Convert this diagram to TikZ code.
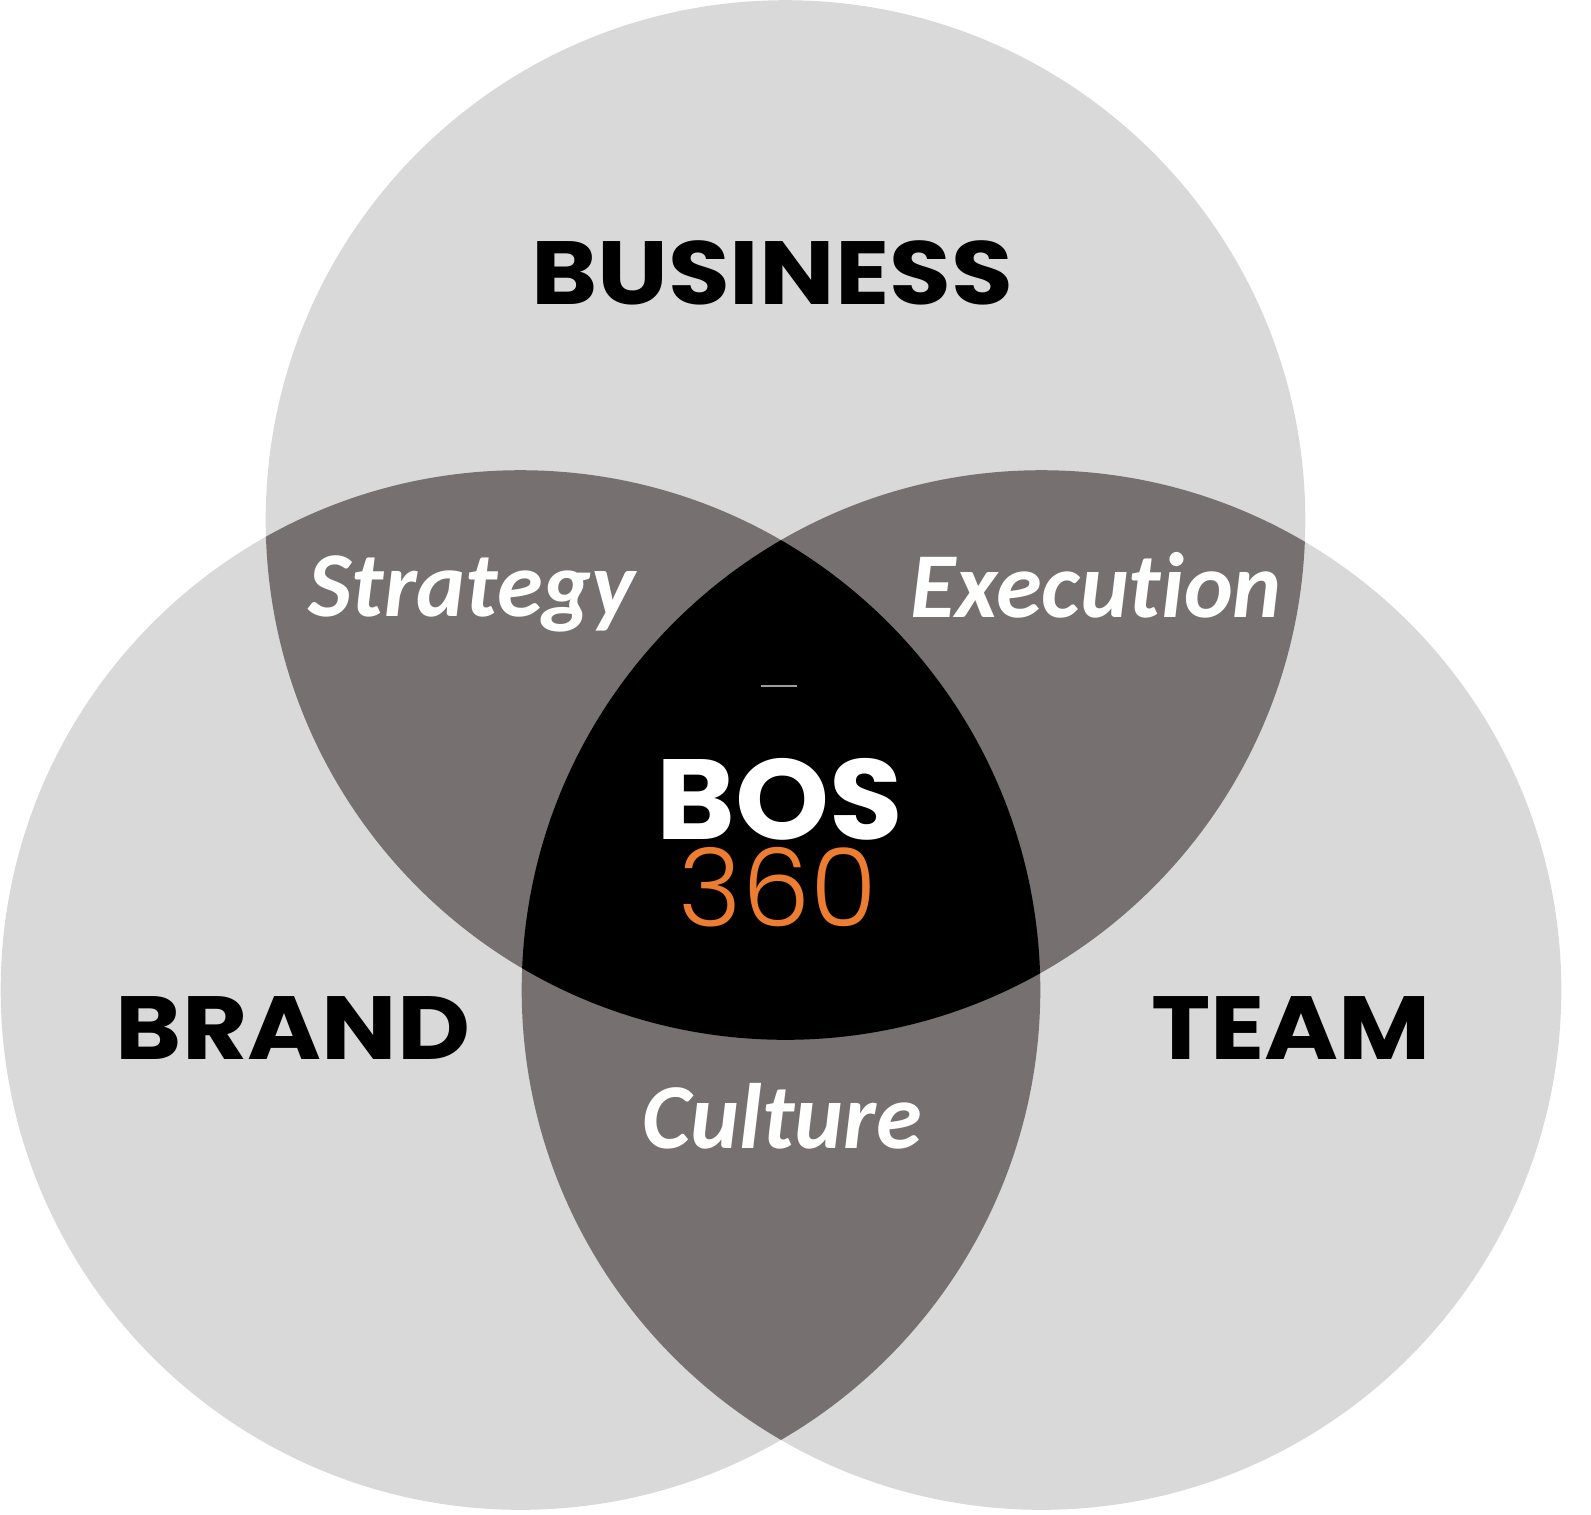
\documentclass[tikz,border=0pt]{standalone}
\usepackage{fontspec}
\setmainfont{Poppins}
\newfontfamily\itfont{Carlito}[Ligatures=NoCommon]
\newfontfamily\thinfont{Poppins}[UprightFont=* Light]
\definecolor{ring}{HTML}{D9D9D9}
\definecolor{lens}{HTML}{767170}
\definecolor{accent}{HTML}{ED7D31}
\begin{document}
\begin{tikzpicture}[x=0.01cm,y=-0.01cm,
  big/.style={font=\bfseries\fontsize{25.5}{30}\selectfont,anchor=base,xscale=1.12},
  word/.style={font=\itfont\bfseries\itshape\fontsize{26.4}{30}\selectfont,text=white,anchor=base}]
\pgfmathsetmacro{\r}{5.195}
\useasboundingbox (0,0) rectangle (1591,1514);
\coordinate (top) at (785.5,520);
\coordinate (left) at (520.5,990);
\coordinate (right) at (1041.5,990);
\foreach \c in {top,left,right}{\fill[ring](\c) circle[radius=\r cm];}
% two-way overlaps
\begin{scope}\clip(top) circle[radius=\r cm];
\fill[lens](left) circle[radius=\r cm];\fill[lens](right) circle[radius=\r cm];\end{scope}
\begin{scope}\clip(left) circle[radius=\r cm];
\fill[lens](right) circle[radius=\r cm];\end{scope}
% centre
\begin{scope}\clip(top) circle[radius=\r cm];\clip(left) circle[radius=\r cm];
\fill[black](right) circle[radius=\r cm];\end{scope}
\draw[lens!70,line width=0.6pt](761,686)--(797,686);
\node[big] (business) at (772,304) {BUSINESS};
\node[big] (brand) at (293,1059) {BRAND};
\node[big] (team) at (1291,1059) {TEAM};
\node[word] (strategy) at (472,616) {Strategy};
\node[word] (execution) at (1096,617) {Execution};
\node[word] (culture) at (782,1148) {Culture};
\node[anchor=base,inner sep=0pt,text depth=0pt,xscale=1.05,text=white,font=\bfseries\fontsize{32.4}{36}\selectfont] (bos) at (780,839) {BOS};
\node[anchor=base,inner sep=0pt,text height=21pt,text depth=0pt,text=accent,font=\thinfont\fontsize{30.8}{36}\selectfont] (num) at (778,926) {360};
\end{tikzpicture}
\end{document}
